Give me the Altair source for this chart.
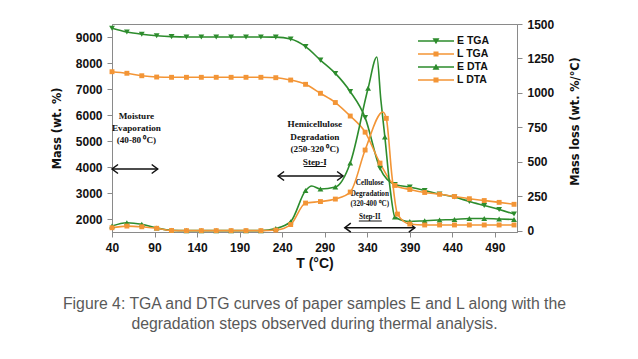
import altair as alt
import pandas as pd

# ---------------- data ----------------
T_GRID = [40, 57.5, 75, 92.5, 110, 127.5, 145, 162.5, 180, 197.5, 215, 232.5, 250, 267.5,
          285, 302.5, 320, 337.5, 355, 372.5, 390, 407.5, 425, 442.5, 460, 477.5, 495, 512.5]
E_TGA = [9335, 9190, 9105, 9050, 9015, 9000, 9000, 9000, 9000, 9000, 9000, 8995, 8920, 8630,
         8110, 7600, 6900, 5900, 3950, 3330, 3230, 3095, 2960, 2845, 2675, 2520, 2365, 2190]
L_TGA = [7665, 7605, 7510, 7460, 7450, 7450, 7450, 7450, 7450, 7450, 7450, 7435, 7345, 7180,
         6835, 6480, 5960, 5340, 4150, 3290, 3135, 3020, 2950, 2865, 2780, 2710, 2640, 2565]

E_DTA_T = [40, 57.5, 75, 92.5, 110, 127.5, 145, 162.5, 180, 197.5, 215, 232.5, 250, 267.5, 274.8,
           285, 302.5, 320, 341, 351.3, 356, 360.7, 366.4, 372.5, 390, 407.5, 425, 442.5, 460,
           477.5, 495, 512.5]
E_DTA = [33, 57, 46, 19, 2, 0, 0, 0, 0, 0, 0, 15, 65, 291, 324,
         302, 316, 491, 1033, 1260, 948, 680, 331, 99, 66, 72, 77, 81, 88,
         88, 84, 81]
E_DTA_MARK = [1, 1, 1, 1, 1, 1, 1, 1, 1, 1, 1, 1, 1, 1, 0,
              1, 1, 1, 1, 0, 0, 1, 0, 1, 1, 1, 1, 1, 1,
              1, 1, 1]

L_DTA_T = [40, 57.5, 75, 92.5, 110, 127.5, 145, 162.5, 180, 197.5, 215, 232.5, 250, 267.5,
           285, 302.5, 320, 337.5, 358.3, 362.4, 368.9, 375.5, 390, 407.5, 425, 442.5, 460,
           477.5, 495, 512.5]
L_DTA = [21, 33, 28, 17, 1, 0, 0, 0, 0, 0, 0, 4, 44, 200,
         211, 229, 280, 585, 861, 815, 404, 120, 48, 41, 41, 41, 41,
         41, 41, 41]
L_DTA_MARK = [1, 1, 1, 1, 1, 1, 1, 1, 1, 1, 1, 1, 1, 1,
              1, 1, 1, 1, 0, 1, 0, 1, 1, 1, 1, 1, 1,
              1, 1, 1]

SERIES = ["E TGA", "L TGA", "E DTA", "L DTA"]
X_TICKS = [40, 90, 140, 190, 240, 290, 340, 390, 440, 490]
LEFT_TICKS = [2000, 3000, 4000, 5000, 6000, 7000, 8000, 9000]
RIGHT_TICKS = [0, 250, 500, 750, 1000, 1250, 1500]

# annotations (data units)
BIG_TEXT = ["Moisture", "Evaporation", "(40-80 \u2070C)",
            "Hemicellulose", "Degradation", "(250-320 \u2070C)", "Step-I"]
BIG_X = [68.7, 68.7, 68.7, 278.4, 278.4, 278.4, 278.4]
BIG_Y = [5962, 5512, 5038, 5635, 5165, 4692, 4192]
SMALL_TEXT = ["Cellulose", "Degradation", "(320-400 \u2070C)", "Step-II"]
SMALL_X = [343.0, 343.0, 343.0, 343.0]
SMALL_Y = [3373, 2950, 2565, 2088]
ARROW_X1 = [40, 235.2, 313.6]
ARROW_X2 = [93.7, 311.6, 395.9]
ARROW_Y = [3923, 3654, 1665]
UL_X1 = [265.4, 330.1]
UL_X2 = [291.3, 357.1]
UL_Y = [4019, 1923]

CAPTION = ["Figure 4: TGA and DTG curves of paper samples E and L along with the",
           "degradation steps observed during thermal analysis."]

# ---------------- styling ----------------
GREEN = "#2d8c2d"
ORANGE = "#f39536"
COLORS = [GREEN, ORANGE, GREEN, ORANGE]
# line colour scale uses a different domain order so its (hidden) legend is not merged
LINE_DOMAIN = ["E TGA", "E DTA", "L TGA", "L DTA"]
LINE_COLORS = [GREEN, GREEN, ORANGE, ORANGE]
LEG_PATHS = [
    "M-1,-0.125H5V0.125H-1Z M1.42,-0.45H2.58L2,0.55Z",
    "M-1,-0.125H5V0.125H-1Z M1.58,-0.42H2.42V0.42H1.58Z",
    "M-1,-0.125H5V0.125H-1Z M2,-0.55L2.58,0.45H1.42Z",
    "M-1,-0.125H5V0.125H-1Z M1.58,-0.42H2.42V0.42H1.58Z",
]
LEFT_HEAD = "M1,-0.75L0,0L1,0.75"
RIGHT_HEAD = "M-1,-0.75L0,0L-1,0.75"
TITLE_FONT = "'Liberation Sans Narrow', 'DejaVu Sans Condensed', 'Liberation Sans'"

# ---------------- tables ----------------
tga_df = pd.DataFrame({
    "T": T_GRID + T_GRID,
    "v": E_TGA + L_TGA,
    "series": ["E TGA"] * len(T_GRID) + ["L TGA"] * len(T_GRID),
})
dta_df = pd.DataFrame({
    "T": E_DTA_T + L_DTA_T,
    "v": E_DTA + L_DTA,
    "mark": E_DTA_MARK + L_DTA_MARK,
    "series": ["E DTA"] * len(E_DTA_T) + ["L DTA"] * len(L_DTA_T),
})
big_df = pd.DataFrame({"T": BIG_X, "v": BIG_Y, "txt": BIG_TEXT})
small_df = pd.DataFrame({"T": SMALL_X, "v": SMALL_Y, "txt": SMALL_TEXT})
arrow_df = pd.DataFrame({"T": ARROW_X1, "T2": ARROW_X2, "v": ARROW_Y})
ul_df = pd.DataFrame({"T": UL_X1, "T2": UL_X2, "v": UL_Y})
leg_df = pd.DataFrame({"series": SERIES})

xscale = alt.Scale(domain=[40, 516], nice=False, zero=False)
xaxis = alt.Axis(values=X_TICKS, title="T (\u00b0C)", titleY=31, titleBaseline="middle",
                 titleFontSize=14, titleFont="Liberation Sans", format="d", labelFlush=False)
X = alt.X("T:Q", scale=xscale, axis=xaxis)
X2 = alt.X("T2:Q", scale=xscale, axis=xaxis)

ly = alt.Y("v:Q", scale=alt.Scale(domain=[1500, 9500], nice=False, zero=False),
           axis=alt.Axis(orient="left", values=LEFT_TICKS, title="Mass (wt. %)", format="d",
                         labelFlush=False, titleAngle=270, titleX=-56, titleY=104,
                         titleBaseline="middle", titleAlign="center"))
ry = alt.Y("v:Q", scale=alt.Scale(domain=[-10, 1500], nice=False, zero=False),
           axis=alt.Axis(orient="right", values=RIGHT_TICKS, title="Mass loss (wt. %/\u00b0C)",
                         format="d", labelFlush=False, titleAngle=270, titleX=57, titleY=97,
                         titleBaseline="middle", titleAlign="center"))

col = alt.Color("series:N", scale=alt.Scale(domain=LINE_DOMAIN, range=LINE_COLORS), legend=None)

# TGA group (left axis)
tga_line = alt.Chart(tga_df).mark_line(interpolate="monotone", strokeWidth=1.6).encode(
    x=X, y=ly, color=col, detail="series:N")
tga_e = alt.Chart(tga_df).transform_filter("datum.series == 'E TGA'").mark_point(
    shape="triangle-down", filled=True, size=34, opacity=1).encode(x=X, y=ly, color=col)
tga_l = alt.Chart(tga_df).transform_filter("datum.series == 'L TGA'").mark_point(
    shape="square", filled=True, size=24, opacity=1).encode(x=X, y=ly, color=col)

big_txt = alt.Chart(big_df).mark_text(font="Liberation Serif", fontWeight="bold", fontSize=9.2,
                                      color="#111", baseline="middle", align="center").encode(
    x=X, y=ly, text="txt:N")
small_txt = alt.Chart(small_df).mark_text(font="Liberation Serif", fontWeight="bold", fontSize=7.2,
                                          color="#111", baseline="middle", align="center").encode(
    x=X, y=ly, text="txt:N")
arrows = alt.Chart(arrow_df).mark_rule(color="#111", strokeWidth=1.4).encode(x=X, x2="T2:Q", y=ly)
heads_l = alt.Chart(arrow_df).mark_point(shape=LEFT_HEAD, size=144, filled=False, color="#111",
                                         strokeWidth=1.5, opacity=1).encode(x=X, y=ly)
heads_r = alt.Chart(arrow_df).mark_point(shape=RIGHT_HEAD, size=144, filled=False, color="#111",
                                         strokeWidth=1.5, opacity=1).encode(x=X2, y=ly)
underline = alt.Chart(ul_df).mark_rule(color="#111", strokeWidth=1).encode(x=X, x2="T2:Q", y=ly)

tga_group = alt.layer(tga_line, tga_e, tga_l, big_txt, small_txt, arrows, heads_l, heads_r,
                      underline)

# DTA group (right axis)
dta_line = alt.Chart(dta_df).mark_line(interpolate="monotone", strokeWidth=1.6).encode(
    x=X, y=ry, color=col, detail="series:N")
dta_e = alt.Chart(dta_df).transform_filter("datum.series == 'E DTA' && datum.mark == 1").mark_point(
    shape="triangle-up", filled=True, size=34, opacity=1).encode(x=X, y=ry, color=col)
dta_l = alt.Chart(dta_df).transform_filter("datum.series == 'L DTA' && datum.mark == 1").mark_point(
    shape="square", filled=True, size=24, opacity=1).encode(x=X, y=ry, color=col)
dta_group = alt.layer(dta_line, dta_e, dta_l)

# legend (invisible points that only carry the legend)
leg = alt.Legend(title=None, orient="none", legendX=306, legendY=11, symbolSize=144,
                 symbolStrokeWidth=0, labelFont="Liberation Sans", labelFontWeight="bold",
                 labelFontSize=10.5, labelColor="#111", labelOffset=27, rowPadding=1, padding=0,
                 symbolOpacity=1)
legend_layer = alt.Chart(leg_df).mark_point(filled=True, opacity=0, strokeWidth=0).encode(
    fill=alt.Fill("series:N", scale=alt.Scale(domain=SERIES, range=COLORS), legend=leg),
    shape=alt.Shape("series:N", scale=alt.Scale(domain=SERIES, range=LEG_PATHS), legend=leg),
)

chart = alt.layer(tga_group, dta_group, legend_layer).resolve_scale(
    y="independent"
).properties(
    width=405, height=208,
    autosize=alt.AutoSizeParams(type="none"),
    padding={"left": 104, "top": 16, "right": 113, "bottom": 119},
    title=alt.TitleParams(text=CAPTION, orient="bottom", anchor="middle", font="Liberation Sans",
                          fontSize=15.8, fontWeight="normal", color="#595959", lineHeight=20,
                          offset=27),
).configure_view(stroke="#8a8a8a", strokeWidth=1).configure_axis(
    grid=False, domainColor="#8a8a8a", tickColor="#8a8a8a", tickSize=5, labelPadding=5,
    labelFont="Liberation Sans", labelFontWeight="bold", labelFontSize=12, labelColor="#111",
    titleFont=TITLE_FONT, titleFontWeight="bold", titleFontSize=12.5, titleColor="#111",
).configure_legend(labelFontWeight="bold")

chart.save("out.html", embed_options={"renderer": "svg", "actions": False})
